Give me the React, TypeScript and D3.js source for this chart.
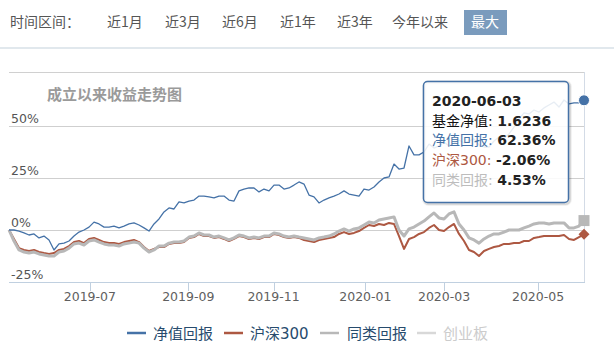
import React from "react";
import * as d3 from "d3";

// ---- data ----
const periodButtons = ["近1月", "近3月", "近6月", "近1年", "近3年", "今年以来", "最大"];
const activePeriod = "最大";
const periodLabel = "时间区间：";
const chartTitle = "成立以来收益走势图";

// trading-day axis: index 0 = fund inception, last = 2020-06-03
const tradingDayCount = 263;
const monthTicks = ["2019-07", "2019-09", "2019-11", "2020-01", "2020-03", "2020-05"];
const monthTickDays = [37, 82, 121, 163, 199, 242];
const yTicks = [-25, 0, 25, 50];

const seriesNames = ["净值回报", "沪深300", "同类回报", "创业板"];
const hiddenSeries = ["创业板"];

// 净值回报 (%)
const navReturn = [
  0, 0, -0.5, -1.4, -2.4, -1.9, -3.8, -2.9, -4.8, -9.6,
  -6.7, -6.3, -5.3, -2.9, -1.0, 0, 1.4, 3.8, 2.9, 1.4,
  1.4, 1.9, 1.0, 1.9, 2.9, 3.4, 2.4, 1.0, -0.5, 2.9,
  5.3, 8.7, 10.6, 10.1, 13.5, 13.0, 13.9, 14.4, 16.3, 16.3,
  15.9, 15.4, 16.3, 16.3, 14.4, 13.9, 18.8, 19.7, 20.2, 20.2,
  18.3, 19.7, 18.8, 21.6, 21.6, 19.7, 20.2, 21.6, 23.1, 22.1,
  16.8, 15.9, 13.0, 14.4, 15.4, 16.3, 17.3, 18.8, 17.3, 16.8,
  16.3, 19.7, 19.2, 20.7, 23.1, 25.0, 25.5, 31.7, 29.3, 29.8,
  40.4, 36.1, 36.1, 37.5, 41.3, 39.4, 40.4, 42.3, 40.4, 41.8,
  43.3, 41.8, 42.8, 43.8, 40.9, 39.9, 39.9, 42.8, 44.7, 44.2,
  46.2, 49.5, 53.4, 56.3, 55.8, 57.7, 56.7, 58.7, 60.1, 61.5,
  59.1, 62.5, 60.6, 61.1, 61.1, 62.36,
];

// 沪深300 (%)
const hs300Return = [
  0, -4.3, -8.7, -9.6, -10.1, -9.6, -10.6, -11.1, -11.5, -11.1,
  -9.6, -9.1, -7.7, -5.8, -5.3, -6.3, -4.3, -3.8, -4.8, -5.8,
  -6.3, -6.3, -6.7, -5.8, -5.3, -4.8, -5.8, -8.2, -10.1, -9.1,
  -8.2, -8.2, -6.7, -6.3, -6.3, -5.8, -3.8, -3.4, -1.9, -2.9,
  -2.9, -3.8, -3.4, -4.3, -5.3, -4.3, -2.9, -3.4, -4.3, -3.8,
  -4.3, -3.4, -3.4, -1.9, -2.4, -3.4, -3.8, -3.4, -3.8, -4.8,
  -5.3, -5.8, -4.8, -4.3, -3.8, -3.4, -1.9, -1.0, -1.9, -1.4,
  -0.5, 1.0, 2.4, 1.9, 2.9, 2.4, 3.4, 2.9, -2.9, -9.1,
  -4.3, -3.4, -1.9, -1.0, 1.0, 2.4, 0, -0.5, 1.4, 2.9,
  -1.9, -5.3, -9.6, -10.6, -12.5, -10.1, -9.1, -8.2, -7.7, -6.7,
  -6.7, -6.3, -6.3, -5.3, -5.3, -3.8, -3.4, -2.9, -2.9, -2.9,
  -2.9, -2.4, -4.3, -4.8, -3.4, -2.06,
];

// 同类回报 (%)
const peerReturn = [
  0, -5.3, -9.6, -10.6, -11.1, -10.6, -11.5, -12.0, -12.5, -12.5,
  -10.6, -10.1, -8.7, -6.7, -6.3, -7.2, -5.3, -4.8, -5.8, -6.7,
  -7.2, -7.2, -7.7, -6.7, -6.3, -5.8, -6.3, -8.7, -10.6, -9.6,
  -7.7, -7.7, -6.3, -5.8, -5.8, -5.3, -3.4, -2.9, -1.4, -2.4,
  -2.4, -3.4, -2.9, -3.8, -4.8, -3.8, -2.4, -2.9, -3.8, -3.4,
  -3.8, -2.9, -2.9, -1.4, -1.9, -2.9, -3.4, -2.9, -3.4, -3.8,
  -4.3, -4.8, -3.8, -3.4, -2.9, -1.9, -0.5, 0.5, -0.5, 0.5,
  1.0, 2.4, 3.8, 3.4, 4.8, 5.3, 5.8, 6.3, 0, -2.9,
  0.5, 1.4, 2.9, 4.3, 6.3, 8.2, 5.8, 5.3, 7.7, 8.7,
  2.9, 0, -3.8, -4.8, -6.3, -4.3, -2.9, -1.9, -1.9, -1.0,
  0, 0, 0, 1.0, 1.9, 2.9, 3.4, 3.4, 2.9, 3.4,
  3.4, 3.4, 1.0, 1.0, 1.9, 4.53,
];

const tooltipDate = "2020-06-03";
const tooltipNavLabel = "基金净值";
const tooltipNavValue = "1.6236";

// ---- styles ----
const COLORS = {
  nav: "#4572A7",
  hs300: "#AD5842",
  peer: "#B8B8B8",
  hidden: "#CCCCCC",
};
const LATIN = "'DejaVu Sans', 'Noto Sans CJK SC', sans-serif";
const CJK = "'Noto Sans CJK SC', sans-serif";

export default function App() {
  const W = 614;
  const H = 354;
  const left = 9;
  const right = 584;
  const top = 72;
  const bottom = 282;

  const x = d3.scaleLinear().domain([0, tradingDayCount]).range([left, right]);
  const y = d3.scaleLinear().domain([-25, 75]).range([bottom, 74]);

  const path = (vals: number[]) =>
    d3
      .line<number>()
      .x((_, i) => x((i * tradingDayCount) / (vals.length - 1)))
      .y((v) => y(v))(vals) as string;

  const lastNav = navReturn[navReturn.length - 1];
  const lastHs = hs300Return[hs300Return.length - 1];
  const lastPeer = peerReturn[peerReturn.length - 1];
  const endX = x(tradingDayCount);

  const buttonX = [107, 165, 222, 280, 337, 392, 471];

  const legendItems = [
    { name: seriesNames[0], color: COLORS.nav, lx: 127, tx: 153 },
    { name: seriesNames[1], color: COLORS.hs300, lx: 224, tx: 250 },
    { name: seriesNames[2], color: COLORS.peer, lx: 320, tx: 347 },
    { name: seriesNames[3], color: "#D8D8D8", lx: 417, tx: 443 },
  ];

  const tipRows = [
    { label: tooltipNavLabel, color: "#111", value: tooltipNavValue },
    { label: seriesNames[0], color: COLORS.nav, value: lastNav.toFixed(2) + "%" },
    { label: seriesNames[1], color: COLORS.hs300, value: lastHs.toFixed(2) + "%" },
    { label: seriesNames[2], color: "#BDBDBD", value: lastPeer.toFixed(2) + "%" },
  ];

  return (
    <svg
      width={W}
      height={H}
      style={{ position: "absolute", left: 0, top: 0, background: "#fff" }}
    >
      {/* top period bar */}
      <text x={10} y={27} fontFamily={CJK} fontSize={14} fill="#555">
        {periodLabel}
      </text>
      {periodButtons.map((b, i) =>
        b === activePeriod ? (
          <g key={b}>
            <rect x={buttonX[i] - 7} y={10} width={43} height={25} fill="#7A9BBD" />
            <text x={buttonX[i]} y={27} fontFamily={CJK} fontSize={14} fill="#fff">
              {b}
            </text>
          </g>
        ) : (
          <text key={b} x={buttonX[i]} y={27} fontFamily={CJK} fontSize={14} fill="#555">
            {b}
          </text>
        )
      )}
      <line x1={0} x2={W} y1={48} y2={48} stroke="#E1E8ED" strokeWidth={2} />

      {/* frame & grid */}
      <line x1={left} x2={right} y1={top + 0.5} y2={top + 0.5} stroke="#D0D0D0" />
      {yTicks
        .filter((t) => t !== -25)
        .map((t) => (
          <line
            key={t}
            x1={left}
            x2={right}
            y1={Math.round(y(t)) + 0.5}
            y2={Math.round(y(t)) + 0.5}
            stroke="#CFCFCF"
          />
        ))}
      <line x1={right + 0.5} x2={right + 0.5} y1={top} y2={bottom} stroke="#D3DBE6" />
      <line x1={left} x2={right + 1} y1={bottom + 0.5} y2={bottom + 0.5} stroke="#C0D0E0" />
      {monthTickDays.map((d, i) => (
        <g key={monthTicks[i]}>
          <line
            x1={Math.round(x(d)) + 0.5}
            x2={Math.round(x(d)) + 0.5}
            y1={bottom}
            y2={bottom + 9}
            stroke="#C0D0E0"
          />
          <text
            x={x(d)}
            y={301}
            textAnchor="middle"
            fontFamily={LATIN}
            fontSize={12.5}
            fill="#606060"
          >
            {monthTicks[i]}
          </text>
        </g>
      ))}
      {yTicks.map((t) => (
        <text key={t} x={11} y={y(t) - 3} fontFamily={LATIN} fontSize={12.5} fill="#555">
          {`${t}%`}
        </text>
      ))}

      <text x={47} y={100} fontFamily={CJK} fontSize={15} fontWeight="bold" fill="#9A9A9A">
        {chartTitle}
      </text>

      {/* series */}
      <path d={path(hs300Return)} fill="none" stroke={COLORS.hs300} strokeWidth={2} strokeLinejoin="round" />
      <path d={path(peerReturn)} fill="none" stroke={COLORS.peer} strokeWidth={3} strokeLinejoin="round" />
      <path d={path(navReturn)} fill="none" stroke={COLORS.nav} strokeWidth={1.3} strokeLinejoin="round" />

      {/* end markers */}
      <circle cx={endX} cy={y(lastNav)} r={5.5} fill={COLORS.nav} stroke="#fff" strokeWidth={1} />
      <rect x={endX - 5.5} y={y(lastPeer) - 5.5} width={11} height={11} fill={COLORS.peer} />
      <path
        d={`M${endX},${y(lastHs) - 5.5} L${endX + 5.5},${y(lastHs)} L${endX},${y(lastHs) + 5.5} L${endX - 5.5},${y(lastHs)} Z`}
        fill={COLORS.hs300}
      />

      {/* tooltip */}
      <g>
        <rect x={424.5} y={82.5} width={145} height={121} rx={4} fill="none" stroke="rgba(0,0,0,0.05)" strokeWidth={5} />
        <rect x={424.5} y={82.5} width={145} height={121} rx={4} fill="none" stroke="rgba(0,0,0,0.1)" strokeWidth={3} />
        <rect x={423.5} y={81.5} width={145} height={121} rx={4} fill="rgba(255,255,255,0.87)" stroke={COLORS.nav} strokeWidth={1.5} />
        <text x={432} y={106} fontFamily={LATIN} fontSize={14} fontWeight="bold" fill="#222">
          {tooltipDate}
        </text>
        {tipRows.map((r, i) => (
          <text key={r.label} x={432} y={125.5 + i * 19.7} fontFamily={LATIN} fontSize={14}>
            <tspan fill={r.color}>{r.label}: </tspan>
            <tspan fill="#222" fontWeight="bold">
              {r.value}
            </tspan>
          </text>
        ))}
      </g>

      {/* legend */}
      {legendItems.map((it) => {
        const hidden = hiddenSeries.includes(it.name);
        return (
          <g key={it.name}>
            <line x1={it.lx} x2={it.lx + 19} y1={333} y2={333} stroke={it.color} strokeWidth={2.5} />
            <text x={it.tx} y={338.5} fontFamily={LATIN} fontSize={15} fill={hidden ? "#CCCCCC" : "#274B6D"}>
              {it.name}
            </text>
          </g>
        );
      })}
    </svg>
  );
}
